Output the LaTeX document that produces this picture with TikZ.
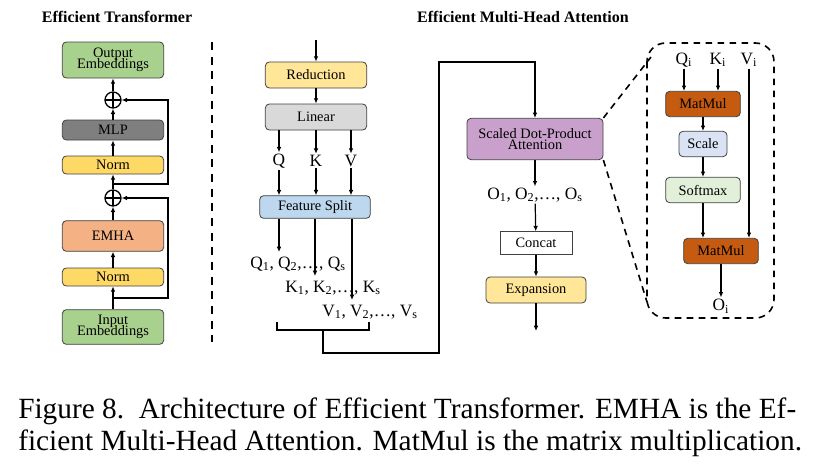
\documentclass[tikz,border=0pt]{standalone}
\usepackage{fontspec}
\setmainfont{Liberation Serif}
\usetikzlibrary{positioning,arrows.meta,backgrounds}
\definecolor{embgreen}{HTML}{A9D18E}
\definecolor{mlpgray}{HTML}{7F7F7F}
\definecolor{normyellow}{HTML}{FFD966}
\definecolor{emhasalmon}{HTML}{F4B183}
\definecolor{lightyellow}{HTML}{FFE699}
\definecolor{lingray}{HTML}{D9D9D9}
\definecolor{splitblue}{HTML}{BDD7EE}
\definecolor{sdpurple}{HTML}{C9A0CB}
\definecolor{mmorange}{HTML}{C55A11}
\definecolor{scaleblue}{HTML}{DAE3F3}
\definecolor{softgreen}{HTML}{E2F0D9}
\tikzset{%
block/.style={draw=black!75,rounded corners=3pt,font=\fontsize{10.8}{11}\selectfont,align=center,inner sep=1pt,line width=0.6pt},
plusnode/.style={draw,circle,line width=1pt,minimum size=12pt,inner sep=0pt,path picture={\draw[line width=1pt] (path picture bounding box.north) -- (path picture bounding box.south) (path picture bounding box.west) -- (path picture bounding box.east);}},
txt/.style={font=\fontsize{13}{14}\selectfont,inner sep=1pt},
title/.style={font=\fontsize{12}{13}\selectfont\bfseries},
flow/.style={line width=0.9pt,-{Latex[length=4pt,width=3.5pt]}},
wire/.style={line width=0.9pt},
captext/.style={font=\fontsize{22}{24}\selectfont,anchor=base west,inner sep=0pt}
}
\begin{document}
\begin{tikzpicture}[x=0.75pt,y=-0.75pt]
\useasboundingbox (0,0) rectangle (819,472);
% left: efficient transformer
\node[title] (ttl) at (117,17) {Efficient Transformer};
\node[block,fill=embgreen,minimum width=76pt,minimum height=27pt] (outemb) at (113,60) {Output\\[-3pt]Embeddings};
\node[plusnode] (addtop) at (113,100) {};
\node[block,fill=mlpgray,minimum width=76pt,minimum height=15pt] (mlp) at (113,130) {MLP};
\node[block,fill=normyellow,minimum width=76pt,minimum height=13.5pt] (normtop) at (113,165) {Norm};
\node[plusnode] (addbot) at (113,198) {};
\node[block,fill=emhasalmon,minimum width=76pt,minimum height=23pt] (emha) at (113,236) {EMHA};
\node[block,fill=normyellow,minimum width=76pt,minimum height=13.5pt] (normbot) at (113,277) {Norm};
\node[block,fill=embgreen,minimum width=76pt,minimum height=26pt] (inemb) at (113,327) {Input\\[-3pt]Embeddings};
\coordinate (skipa) at (113,298);
\coordinate (skipb) at (113,184);
\draw[flow] (inemb) -- (normbot);
\draw[flow] (normbot) -- (emha);
\draw[flow] (emha) -- (addbot);
\draw[flow] (addbot) -- (normtop);
\draw[flow] (normtop) -- (mlp);
\draw[flow] (mlp) -- (addtop);
\draw[flow] (addtop) -- (outemb);
\draw[flow] (skipa) -| (168,198) -- (addbot);
\draw[flow] (skipb) -| (168,100) -- (addtop);
\draw[line width=1.2pt,dash pattern=on 6pt off 5pt] (212,42) -- (212,342);
% middle: efficient multi-head attention
\node[title] (ttr) at (523,17) {Efficient Multi-Head Attention};
\coordinate (inred) at (316,40);
\node[block,fill=lightyellow,minimum width=76pt,minimum height=19.5pt] (red) at (316,75) {Reduction};
\node[block,fill=lingray,minimum width=76pt,minimum height=19.5pt] (lin) at (316,117) {Linear};
\node[block,fill=splitblue,minimum width=83pt,minimum height=17pt] (split) at (315,207) {Feature Split};
\node[txt] (q) at (279,161) {Q};
\node[txt] (k) at (316,161) {K};
\node[txt] (v) at (351,161) {V};
\draw[flow] (inred) -- (red);
\draw[flow] (red) -- (lin);
\foreach \n in {q,k,v} {
  \draw[flow] (lin.south -| \n) -- (\n);
  \draw[flow] (\n) -- (split.north -| \n);
}
\node[txt] (qs) at (298,264) {Q\textsubscript{1}, Q\textsubscript{2},\ldots, Q\textsubscript{s}};
\node[txt] (ks) at (333,288) {K\textsubscript{1}, K\textsubscript{2},\ldots, K\textsubscript{s}};
\node[txt] (vs) at (370,312) {V\textsubscript{1}, V\textsubscript{2},\ldots, V\textsubscript{s}};
\coordinate (qend) at (279,252);
\coordinate (kend) at (315,276);
\coordinate (vend) at (352,300);
\draw[flow] (split.south -| qend) -- (qend);
\draw[flow] (split.south -| kend) -- (kend);
\draw[flow] (split.south -| vend) -- (vend);
\draw[wire] (277,322) |- (369,330) -- (369,322);
\node[block,fill=sdpurple,minimum width=102pt,minimum height=31pt] (sdpa) at (535,139) {Scaled Dot-Product\\[-3pt]Attention};
\draw[flow] (323,330) |- (439,353) |- (535,62) -- (sdpa);
\node[txt] (os) at (535,195) {O\textsubscript{1}, O\textsubscript{2},\ldots, O\textsubscript{s}};
\node[block,rounded corners=0pt,fill=white,minimum width=54pt,minimum height=17pt] (concat) at (536,243) {Concat};
\node[block,fill=lightyellow,minimum width=75pt,minimum height=19.5pt] (exp) at (536,290) {Expansion};
\coordinate (outexp) at (536,331);
\draw[flow] (sdpa) -- (os);
\draw[flow] (os) -- (concat);
\draw[flow] (concat) -- (exp);
\draw[flow] (exp) -- (outexp);
% right: zoomed attention
\draw[line width=1.2pt,dash pattern=on 5pt off 4pt,rounded corners=14pt] (647,43) rectangle (774,318);
\draw[line width=1.2pt,dash pattern=on 5pt off 4pt] (sdpa.north east) -- (651,57);
\draw[line width=1.2pt,dash pattern=on 5pt off 4pt] (sdpa.south east) -- (647,302);
\node[txt] (qi) at (684,60) {Q\textsubscript{i}};
\node[txt] (ki) at (718,60) {K\textsubscript{i}};
\node[txt] (vi) at (749,60) {V\textsubscript{i}};
\node[block,fill=mmorange,minimum width=56pt,minimum height=19pt] (mm1) at (703,104) {MatMul};
\node[block,fill=scaleblue,minimum width=36pt,minimum height=19pt] (scale) at (703,144) {Scale};
\node[block,fill=softgreen,minimum width=56pt,minimum height=19pt] (soft) at (703,190) {Softmax};
\node[block,fill=mmorange,minimum width=56pt,minimum height=19pt] (mm2) at (721,251) {MatMul};
\node[txt] (oi) at (721,306) {O\textsubscript{i}};
\draw[flow] (qi) -- (mm1.north -| qi);
\draw[flow] (ki) -- (mm1.north -| ki);
\draw[flow] (vi) -- (mm2.north -| vi);
\draw[flow] (mm1) -- (scale);
\draw[flow] (scale) -- (soft);
\draw[flow] (soft) -- (mm2.north -| soft);
\draw[flow] (mm2) -- (oi);
% caption
\node[captext] (cap1) at (18,418) {Figure 8.\ \ Architecture of Efficient Transformer. EMHA is the Ef-};
\node[captext] (cap2) at (18,450) {ficient Multi-Head Attention. MatMul is the matrix multiplication.};
\end{tikzpicture}
\end{document}
